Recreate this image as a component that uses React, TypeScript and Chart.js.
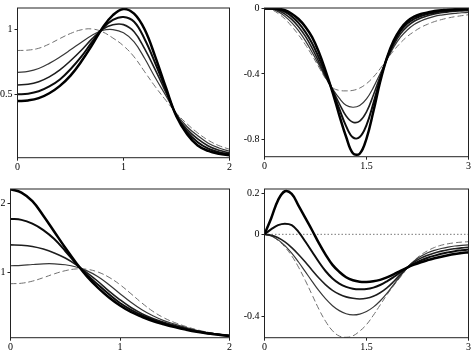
import React, { useEffect, useRef } from 'react';
import { Chart, registerables } from 'chart.js';

Chart.register(...registerables);

// ---------- data ----------
const X2 = [0, 0.1, 0.2, 0.3, 0.4, 0.5, 0.6, 0.7, 0.8, 0.9, 1.0, 1.1, 1.2, 1.3, 1.4, 1.5, 1.6, 1.7, 1.8, 1.9, 2.0];
const X3 = [0, 0.1, 0.2, 0.3, 0.4, 0.5, 0.6, 0.7, 0.8, 0.9, 1.0, 1.1, 1.2, 1.3, 1.4, 1.5, 1.6, 1.7, 1.8, 1.9, 2.0,
  2.1, 2.2, 2.3, 2.4, 2.5, 2.6, 2.7, 2.8, 2.9, 3.0];

// Panel 1 (top-left)
const P1_C5 = [0.450, 0.455, 0.472, 0.510, 0.567, 0.646, 0.752, 0.876, 1.010, 1.111, 1.158, 1.122, 1.000, 0.790, 0.554, 0.331, 0.195, 0.108, 0.066, 0.044, 0.032];
const P1_C4 = [0.502, 0.507, 0.525, 0.562, 0.616, 0.695, 0.789, 0.901, 1.007, 1.074, 1.097, 1.060, 0.926, 0.740, 0.537, 0.336, 0.212, 0.133, 0.084, 0.056, 0.042];
const P1_C3 = [0.574, 0.579, 0.599, 0.636, 0.690, 0.760, 0.839, 0.926, 1.000, 1.037, 1.038, 0.983, 0.851, 0.690, 0.517, 0.339, 0.232, 0.158, 0.104, 0.071, 0.052];
const P1_C2 = [0.671, 0.678, 0.700, 0.740, 0.789, 0.844, 0.901, 0.955, 0.993, 1.000, 0.975, 0.905, 0.777, 0.629, 0.492, 0.350, 0.252, 0.183, 0.126, 0.089, 0.064];
const P1_DASH = [0.839, 0.842, 0.856, 0.889, 0.931, 0.970, 0.998, 1.005, 0.983, 0.935, 0.875, 0.790, 0.675, 0.560, 0.455, 0.356, 0.274, 0.205, 0.148, 0.107, 0.079];
const P1_XTICKS = [0, 1, 2];
const P1_YTICKS = [0.5, 1];

// Panel 2 (top-right)
const P2_C5 = [0, 0, -0.001, -0.011, -0.032, -0.064, -0.111, -0.175, -0.267, -0.382, -0.510, -0.652, -0.783, -0.884, -0.887, -0.794, -0.631, -0.449, -0.301, -0.196, -0.125, -0.078, -0.050, -0.034, -0.024, -0.015, -0.011, -0.007, -0.005, -0.003, -0.001];
const P2_C4 = [0, 0, -0.005, -0.021, -0.048, -0.088, -0.143, -0.212, -0.301, -0.402, -0.502, -0.613, -0.718, -0.787, -0.785, -0.712, -0.581, -0.433, -0.303, -0.208, -0.139, -0.092, -0.064, -0.046, -0.034, -0.026, -0.019, -0.015, -0.011, -0.009, -0.007];
const P2_C3 = [0, -0.001, -0.011, -0.034, -0.066, -0.111, -0.169, -0.242, -0.327, -0.415, -0.496, -0.581, -0.656, -0.694, -0.688, -0.631, -0.530, -0.415, -0.307, -0.222, -0.155, -0.109, -0.078, -0.058, -0.044, -0.034, -0.026, -0.021, -0.017, -0.015, -0.013];
const P2_C2 = [0, -0.003, -0.019, -0.048, -0.086, -0.135, -0.196, -0.267, -0.344, -0.423, -0.491, -0.548, -0.591, -0.603, -0.593, -0.552, -0.483, -0.398, -0.313, -0.236, -0.175, -0.131, -0.098, -0.076, -0.060, -0.048, -0.040, -0.034, -0.030, -0.026, -0.024];
const P2_DASH = [0, -0.007, -0.030, -0.064, -0.109, -0.161, -0.220, -0.287, -0.358, -0.429, -0.483, -0.500, -0.503, -0.500, -0.486, -0.459, -0.419, -0.368, -0.311, -0.257, -0.210, -0.171, -0.141, -0.115, -0.096, -0.080, -0.068, -0.058, -0.050, -0.044, -0.038];
const P2_XTICKS = [0, 1.5, 3];
const P2_YTICKS = [-0.8, -0.4, 0];

// Panel 3 (bottom-left)
const P3_C5 = [2.198, 2.152, 2.028, 1.820, 1.590, 1.359, 1.142, 0.944, 0.783, 0.645, 0.530, 0.437, 0.368, 0.308, 0.262, 0.221, 0.184, 0.152, 0.128, 0.110, 0.091];
const P3_C4 = [1.774, 1.760, 1.705, 1.613, 1.484, 1.313, 1.129, 0.967, 0.829, 0.691, 0.566, 0.469, 0.391, 0.326, 0.276, 0.230, 0.193, 0.161, 0.133, 0.115, 0.096];
const P3_C3 = [1.401, 1.396, 1.378, 1.341, 1.285, 1.212, 1.115, 1.000, 0.875, 0.737, 0.612, 0.502, 0.414, 0.345, 0.290, 0.244, 0.202, 0.165, 0.137, 0.114, 0.096];
const P3_C2 = [1.101, 1.106, 1.119, 1.129, 1.129, 1.115, 1.083, 1.027, 0.944, 0.829, 0.700, 0.576, 0.469, 0.382, 0.313, 0.262, 0.216, 0.175, 0.142, 0.119, 0.101];
const P3_DASH = [0.843, 0.850, 0.880, 0.930, 0.985, 1.030, 1.055, 1.050, 1.010, 0.935, 0.829, 0.700, 0.566, 0.447, 0.354, 0.285, 0.230, 0.184, 0.147, 0.119, 0.101];
const P3_XTICKS = [0, 1, 2];
const P3_YTICKS = [1, 2];

// Panel 4 (bottom-right)
const P4_C5 = [0, 0.080, 0.167, 0.210, 0.197, 0.140, 0.080, 0.020, -0.043, -0.100, -0.149, -0.183, -0.209, -0.224, -0.231, -0.232, -0.229, -0.222, -0.210, -0.195, -0.178, -0.162, -0.148, -0.136, -0.126, -0.117, -0.109, -0.102, -0.096, -0.091, -0.087];
const P4_C4 = [0, 0.025, 0.045, 0.052, 0.045, 0.012, -0.035, -0.085, -0.135, -0.180, -0.215, -0.240, -0.256, -0.265, -0.268, -0.267, -0.260, -0.247, -0.229, -0.208, -0.185, -0.162, -0.143, -0.127, -0.114, -0.104, -0.095, -0.088, -0.082, -0.078, -0.074];
const P4_C3 = [0, -0.005, -0.017, -0.037, -0.065, -0.098, -0.135, -0.175, -0.213, -0.246, -0.273, -0.292, -0.305, -0.312, -0.315, -0.312, -0.302, -0.285, -0.261, -0.230, -0.195, -0.161, -0.135, -0.116, -0.102, -0.091, -0.082, -0.075, -0.070, -0.066, -0.063];
const P4_C2 = [0, -0.008, -0.027, -0.055, -0.092, -0.135, -0.182, -0.229, -0.275, -0.315, -0.348, -0.372, -0.387, -0.393, -0.389, -0.376, -0.355, -0.325, -0.288, -0.245, -0.203, -0.163, -0.130, -0.107, -0.090, -0.078, -0.069, -0.062, -0.057, -0.054, -0.051];
const P4_DASH = [0, -0.009, -0.030, -0.062, -0.105, -0.160, -0.225, -0.295, -0.365, -0.425, -0.470, -0.496, -0.502, -0.495, -0.472, -0.440, -0.395, -0.345, -0.295, -0.250, -0.208, -0.165, -0.128, -0.100, -0.080, -0.064, -0.053, -0.046, -0.041, -0.038, -0.036];
const P4_ZERO_X = [0, 3];
const P4_ZERO = [0, 0];
const P4_XTICKS = [0, 1.5, 3];
const P4_YTICKS = [-0.4, 0, 0.2];

// ---------- styling ----------
const W = 237;
const H = 181;
const XH = 20;
const FONT = "'Liberation Serif', 'Times New Roman', serif";
const LINE_STYLES = [
  { color: '#000000', width: 2.5, dash: [] as number[] },
  { color: '#0c0c0c', width: 2.0, dash: [] as number[] },
  { color: '#1e1e1e', width: 1.6, dash: [] as number[] },
  { color: '#383838', width: 1.2, dash: [] as number[] },
  { color: '#707070', width: 1.0, dash: [6, 3] },
];

type PanelCfg = {
  pos: [number, number];
  area: { left: number; right: number; top: number; bottom: number };
  xRange: [number, number];
  yRange: [number, number];
  xTicks: number[];
  yTicks: number[];
  xs: number[];
  series: number[][];
  zero?: { xs: number[]; ys: number[] };
};

const PANELS: PanelCfg[] = [
  {
    pos: [0, 0], area: { left: 17.5, right: 229.5, top: 2.7, bottom: 157.7 },
    xRange: [0, 2], yRange: [0.014, 1.166], xTicks: P1_XTICKS, yTicks: P1_YTICKS,
    xs: X2, series: [P1_C5, P1_C4, P1_C3, P1_C2, P1_DASH],
  },
  {
    pos: [237, 0], area: { left: 27.5, right: 231.5, top: 7.3, bottom: 156.7 },
    xRange: [0, 3], yRange: [-0.905, 0.003], xTicks: P2_XTICKS, yTicks: P2_YTICKS,
    xs: X3, series: [P2_C5, P2_C4, P2_C3, P2_C2, P2_DASH],
  },
  {
    pos: [0, 181], area: { left: 10.5, right: 229.5, top: 2.3, bottom: 156.7 },
    xRange: [0, 2], yRange: [0.068, 2.203], xTicks: P3_XTICKS, yTicks: P3_YTICKS,
    xs: X2, series: [P3_C5, P3_C4, P3_C3, P3_C2, P3_DASH],
  },
  {
    pos: [237, 181], area: { left: 27.5, right: 231.5, top: 3.7, bottom: 156.7 },
    xRange: [0, 3], yRange: [-0.504, 0.221], xTicks: P4_XTICKS, yTicks: P4_YTICKS,
    xs: X3, series: [P4_C5, P4_C4, P4_C3, P4_C2, P4_DASH],
    zero: { xs: P4_ZERO_X, ys: P4_ZERO },
  },
];

const framePlugin = {
  id: 'frame',
  afterDatasetsDraw(chart: any) {
    const { ctx, chartArea } = chart;
    const { left, top, right, bottom } = chartArea;
    ctx.save();
    ctx.strokeStyle = '#222';
    ctx.lineWidth = 1;
    ctx.strokeRect(left, top, right - left, bottom - top);
    ctx.restore();
  },
};

function buildChart(canvas: HTMLCanvasElement, cfg: PanelCfg) {
  const datasets: any[] = cfg.series.map((ys, i) => ({
    data: cfg.xs.map((x, j) => ({ x, y: ys[j] })),
    borderColor: LINE_STYLES[i].color,
    borderWidth: LINE_STYLES[i].width,
    borderDash: LINE_STYLES[i].dash,
    pointRadius: 0,
    fill: false,
    tension: 0.4,
  }));
  if (cfg.zero) {
    datasets.push({
      data: cfg.zero.xs.map((x, j) => ({ x, y: cfg.zero!.ys[j] })),
      borderColor: '#777',
      borderWidth: 1,
      borderDash: [1.5, 2],
      pointRadius: 0,
      fill: false,
    });
  }
  const tickFont = { family: FONT, size: 10 };
  return new Chart(canvas, {
    type: 'line',
    data: { datasets },
    options: {
      animation: false,
      responsive: false,
      maintainAspectRatio: false,
      events: [],
      layout: {
        autoPadding: false,
        padding: {
          left: 0,
          top: cfg.area.top,
          right: W - cfg.area.right,
          bottom: H - cfg.area.bottom - XH,
        },
      },
      plugins: { legend: { display: false }, tooltip: { enabled: false } },
      scales: {
        x: {
          type: 'linear',
          min: cfg.xRange[0],
          max: cfg.xRange[1],
          afterBuildTicks: (s: any) => { s.ticks = cfg.xTicks.map((v) => ({ value: v })); },
          afterFit: (s: any) => { s.height = XH; },
          ticks: {
            autoSkip: false, maxRotation: 0, padding: 1, color: '#000', font: tickFont,
            callback: (v: any) => String(v),
          },
          grid: { drawOnChartArea: false, drawTicks: true, tickLength: 3, tickColor: '#222' },
          border: { display: false },
        },
        y: {
          type: 'linear',
          min: cfg.yRange[0],
          max: cfg.yRange[1],
          afterBuildTicks: (s: any) => { s.ticks = cfg.yTicks.map((v) => ({ value: v })); },
          afterFit: (s: any) => { s.width = cfg.area.left; },
          ticks: {
            autoSkip: false, padding: 2, color: '#000', font: tickFont,
            callback: (v: any) => String(v),
          },
          grid: { drawOnChartArea: false, drawTicks: true, tickLength: 3, tickColor: '#222' },
          border: { display: false },
        },
      },
    } as any,
    plugins: [framePlugin],
  });
}

function Panel({ cfg }: { cfg: PanelCfg }) {
  const ref = useRef<HTMLCanvasElement>(null);
  useEffect(() => {
    if (!ref.current) return;
    const chart = buildChart(ref.current, cfg);
    return () => chart.destroy();
  }, [cfg]);
  return (
    <canvas
      ref={ref}
      width={W}
      height={H}
      style={{ position: 'absolute', left: cfg.pos[0], top: cfg.pos[1], width: W, height: H }}
    />
  );
}

export default function App() {
  return (
    <div style={{ position: 'fixed', left: 0, top: 0, width: 474, height: 362, background: '#fff' }}>
      {PANELS.map((p, i) => (
        <Panel key={i} cfg={p} />
      ))}
    </div>
  );
}
